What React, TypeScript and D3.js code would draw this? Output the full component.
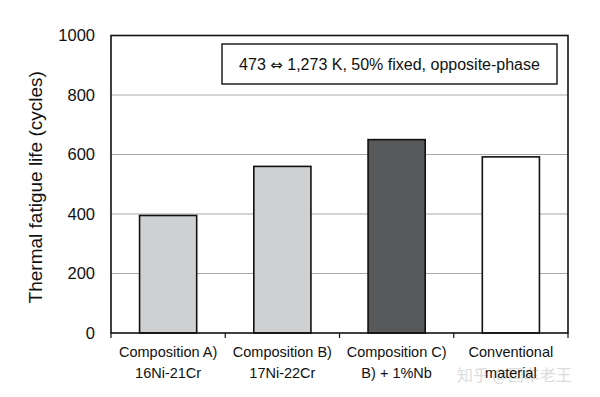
import React, { useEffect, useRef } from 'react';
import * as d3 from 'd3';

const categories = ['A', 'B', 'C', 'D'];
const labelLine1 = ['Composition A)', 'Composition B)', 'Composition C)', 'Conventional'];
const labelLine2 = ['16Ni-21Cr', '17Ni-22Cr', 'B) + 1%Nb', 'material'];
const lifeValues = [395, 560, 650, 592];
const barFills = ['#cfd0d2', '#cfd0d2', '#58595b', '#ffffff'];
const yTicks = [0, 200, 400, 600, 800, 1000];

const W = 600;
const H = 397;
const FONT = '"Liberation Sans", Arial, Helvetica, sans-serif';

const App: React.FC = () => {
  const svgRef = useRef<SVGSVGElement | null>(null);

  useEffect(() => {
    if (!svgRef.current) return;
    const svg = d3.select(svgRef.current);
    svg.selectAll('*').remove();

    const left = 111, right = 568, top = 35.5, bottom = 333;

    const x = d3.scaleBand<string>()
      .domain(categories)
      .range([left, right])
      .paddingInner(0)
      .paddingOuter(0);

    const y = d3.scaleLinear().domain([0, 1000]).range([bottom, top]);

    svg.append('rect')
      .attr('width', W).attr('height', H).attr('fill', '#fff');

    // gridlines
    svg.append('g')
      .selectAll('line')
      .data(yTicks.filter(t => t > 0 && t < 1000))
      .join('line')
      .attr('x1', left).attr('x2', right)
      .attr('y1', d => y(d)).attr('y2', d => y(d))
      .attr('stroke', '#a9a9a9')
      .attr('stroke-width', 1.2);

    // bars
    const bw = x.bandwidth() * 0.5;
    svg.append('g')
      .selectAll('rect')
      .data(lifeValues)
      .join('rect')
      .attr('x', (d, i) => x(categories[i])! + (x.bandwidth() - bw) / 2)
      .attr('y', d => y(d))
      .attr('width', bw)
      .attr('height', d => bottom - y(d))
      .attr('fill', (d, i) => barFills[i])
      .attr('stroke', '#111')
      .attr('stroke-width', 1.6);

    // frame
    svg.append('rect')
      .attr('x', left).attr('y', top)
      .attr('width', right - left).attr('height', bottom - top)
      .attr('fill', 'none')
      .attr('stroke', '#111')
      .attr('stroke-width', 1.6);

    // x ticks (category boundaries)
    const bounds = categories.map(c => x(c)!).concat([right]);
    svg.append('g')
      .selectAll('line')
      .data(bounds)
      .join('line')
      .attr('x1', d => d).attr('x2', d => d)
      .attr('y1', bottom).attr('y2', bottom + 5)
      .attr('stroke', '#111')
      .attr('stroke-width', 1.2);

    // y tick labels
    svg.append('g')
      .attr('font-family', FONT)
      .attr('font-size', 16.5)
      .attr('fill', '#111')
      .attr('text-anchor', 'end')
      .selectAll('text')
      .data(yTicks)
      .join('text')
      .attr('x', 95)
      .attr('y', d => y(d))
      .attr('dy', '0.35em')
      .text(d => d);

    // y title
    svg.append('text')
      .attr('font-family', FONT)
      .attr('font-size', 19)
      .attr('fill', '#111')
      .attr('text-anchor', 'middle')
      .attr('transform', `translate(42, ${(top + bottom) / 2 + 3}) rotate(-90)`)
      .text('Thermal fatigue life (cycles)');

    // watermark
    svg.append('text')
      .attr('font-family', '"Noto Sans CJK SC", sans-serif')
      .attr('font-size', 16)
      .attr('fill', '#dcdcdc')
      .attr('x', 457)
      .attr('y', 381)
      .text('知乎 @国车老王');

    // x labels
    const xl = svg.append('g')
      .attr('font-family', FONT)
      .attr('font-size', 14.5)
      .attr('fill', '#111')
      .attr('text-anchor', 'middle');
    xl.selectAll('text.l1')
      .data(labelLine1)
      .join('text')
      .attr('class', 'l1')
      .attr('x', (d, i) => x(categories[i])! + x.bandwidth() / 2)
      .attr('y', 357)
      .text(d => d);
    xl.selectAll('text.l2')
      .data(labelLine2)
      .join('text')
      .attr('class', 'l2')
      .attr('x', (d, i) => x(categories[i])! + x.bandwidth() / 2)
      .attr('y', 378)
      .text(d => d);

    // annotation box
    svg.append('rect')
      .attr('x', 222).attr('y', 44)
      .attr('width', 335).attr('height', 40)
      .attr('fill', '#fff')
      .attr('stroke', '#111')
      .attr('stroke-width', 1.4);
    const note = svg.append('text')
      .attr('font-family', FONT)
      .attr('font-size', 16)
      .attr('fill', '#111')
      .attr('text-anchor', 'middle')
      .attr('x', 389.5)
      .attr('y', 64)
      .attr('dy', '0.35em');
    note.append('tspan').text('473 ');
    note.append('tspan').attr('font-family', '"DejaVu Sans", sans-serif').attr('font-size', 15).text('⇔');
    note.append('tspan').text(' 1,273 K, 50% fixed, opposite-phase');
  }, []);

  return (
    <svg
      ref={svgRef}
      width={W}
      height={H}
      style={{ position: 'absolute', left: 0, top: 0, display: 'block' }}
    />
  );
};

export default App;
